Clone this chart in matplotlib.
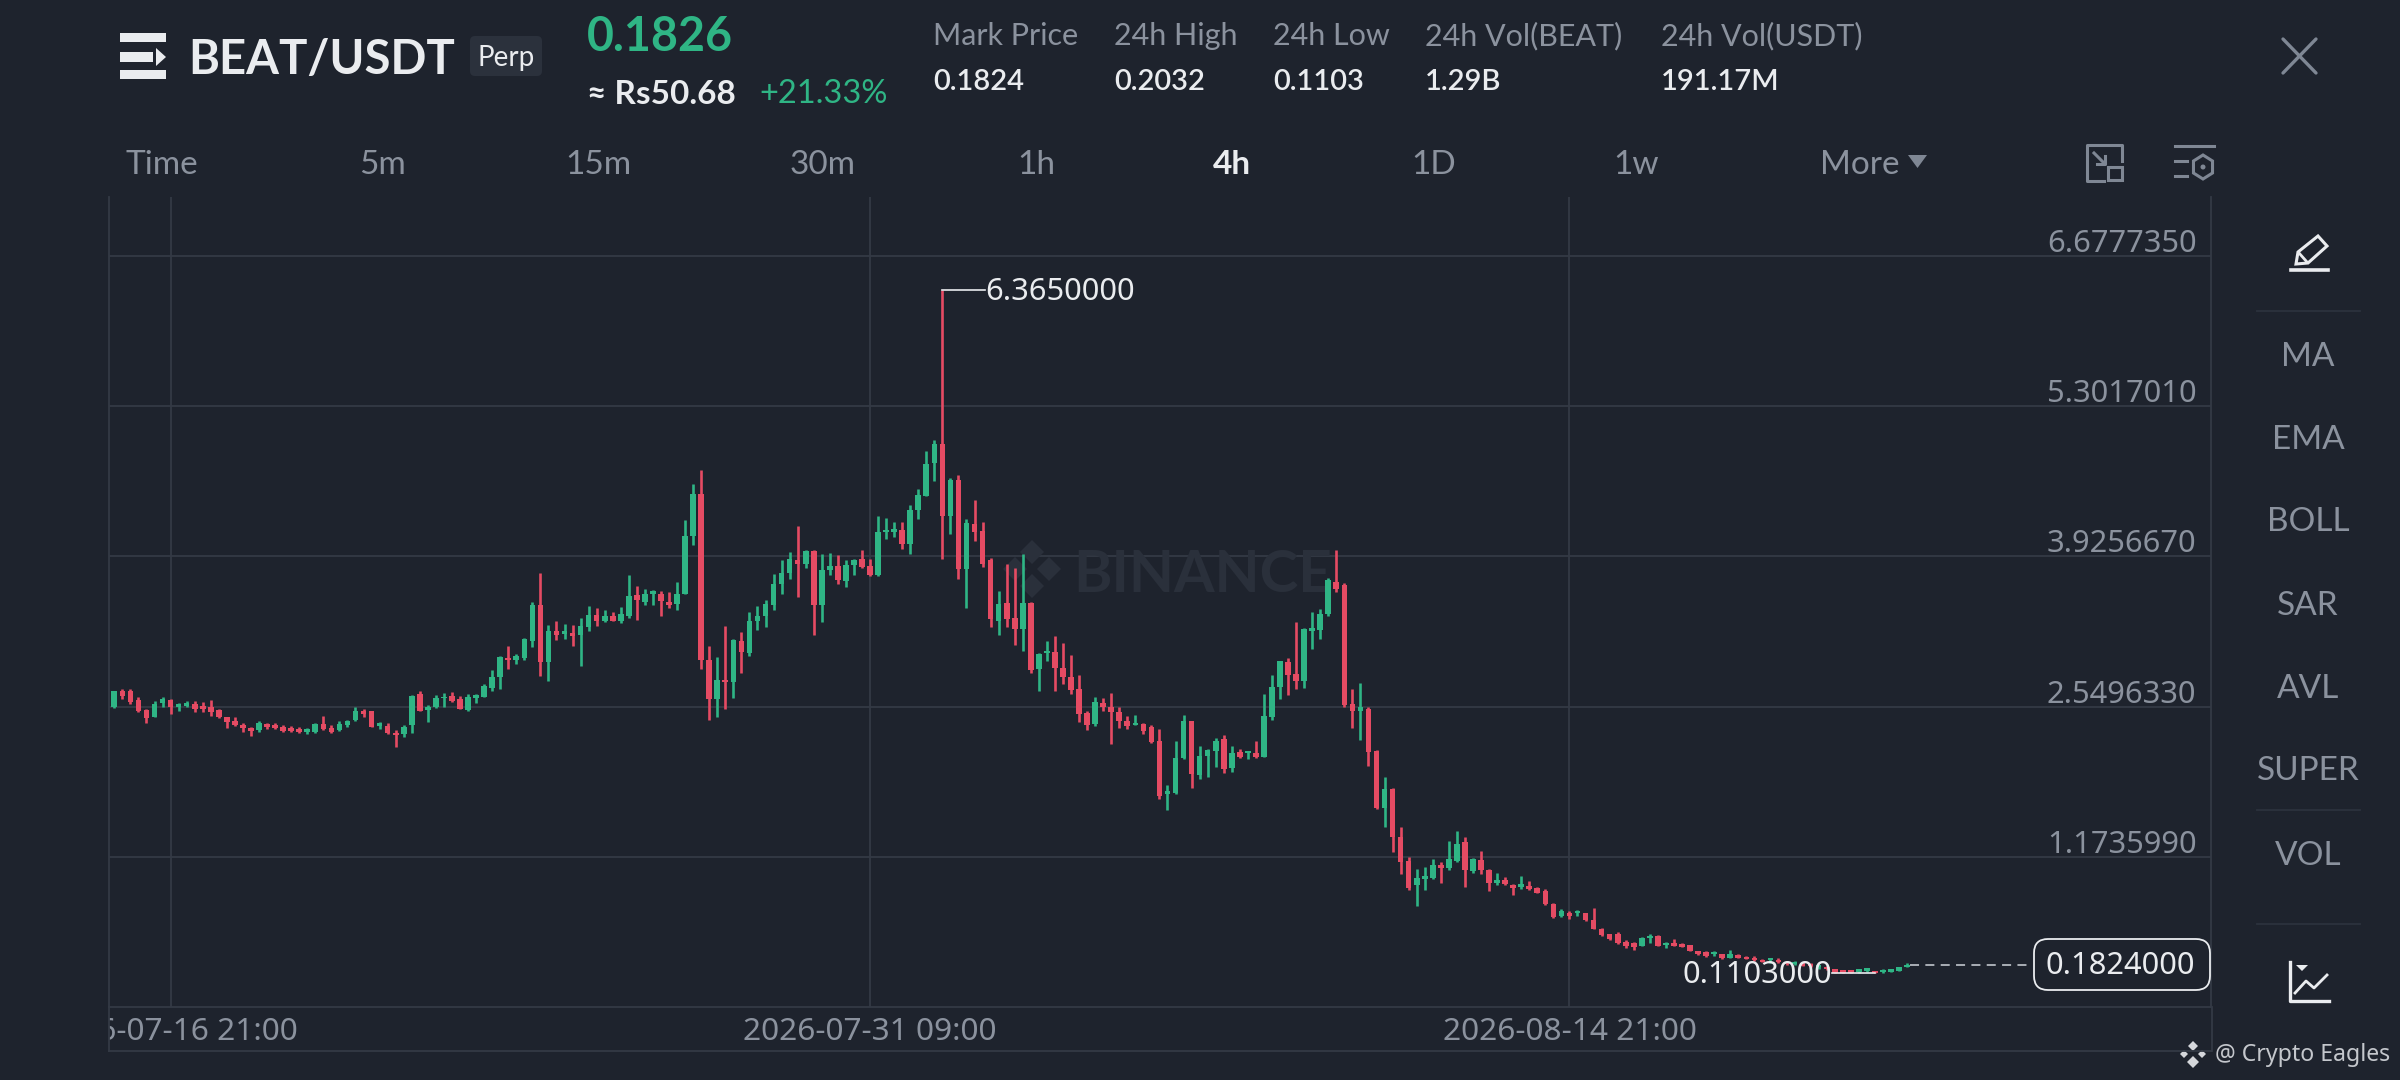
import matplotlib
matplotlib.use('Agg')
import matplotlib.pyplot as plt
import matplotlib.transforms as mtransforms
import numpy as np
from matplotlib.patches import FancyBboxPatch, Rectangle, Polygon, Circle
from matplotlib.transforms import Bbox

# 4h candles
opens = [2.55, 2.688, 2.691, 2.611, 2.519, 2.458, 2.581, 2.611, 2.544, 2.556,
         2.574, 2.559, 2.55, 2.519, 2.452, 2.421, 2.382, 2.354, 2.336, 2.391,
         2.379, 2.366, 2.354, 2.342, 2.317, 2.317, 2.391, 2.351, 2.336, 2.379,
         2.428, 2.513, 2.507, 2.373, 2.373, 2.311, 2.299, 2.379, 2.663, 2.519,
         2.544, 2.63, 2.648, 2.623, 2.519, 2.627, 2.642, 2.718, 2.825, 2.994,
         2.978, 2.992, 3.155, 3.476, 2.956, 3.246, 3.216, 3.225, 3.21, 3.277,
         3.393, 3.338, 3.375, 3.338, 3.384, 3.568, 3.507, 3.583, 3.583, 3.507,
         3.485, 3.583, 4.109, 4.501, 2.977, 2.619, 2.794, 2.772, 3.149, 3.039,
         3.332, 3.375, 3.476, 3.669, 3.773, 3.895, 3.859, 3.975, 3.482, 3.797,
         3.834, 3.7, 3.843, 3.904, 3.834, 3.754, 4.149, 4.149, 4.165, 4.042,
         4.348, 4.482, 4.782, 4.959, 4.298, 4.623, 3.812, 4.219, 4.158, 3.888,
         3.337, 3.497, 3.362, 3.261, 3.497, 2.895, 3.038, 3.048, 2.904, 2.824,
         2.711, 2.488, 2.39, 2.583, 2.549, 2.503, 2.42, 2.384, 2.39, 2.359,
         2.231, 1.747, 1.756, 2.078, 2.42, 1.925, 2.096, 2.145, 2.252, 1.986,
         2.13, 2.124, 2.121, 2.09, 2.457, 2.726, 2.956, 2.849, 2.788, 3.241,
         3.253, 3.394, 3.69, 3.66, 2.573, 2.512, 2.531, 2.144, 1.622, 1.799,
         1.351, 1.138, 0.912, 0.967, 0.976, 1.098, 1.067, 1.138, 1.311, 1.046,
         1.144, 1.052, 0.93, 0.961, 0.912, 0.893, 0.909, 0.89, 0.863, 0.741,
         0.631, 0.662, 0.662, 0.656, 0.592, 0.516, 0.47, 0.47, 0.396, 0.384,
         0.36, 0.433, 0.451, 0.366, 0.387, 0.372, 0.363, 0.311, 0.298, 0.286,
         0.28, 0.25, 0.271, 0.259, 0.25, 0.231, 0.225, 0.231, 0.21, 0.194,
         0.201, 0.194, 0.164, 0.164, 0.142, 0.133, 0.133, 0.121, 0.127, 0.127,
         0.115, 0.121, 0.127, 0.164]
closes = [2.688, 2.648, 2.59, 2.513, 2.449, 2.574, 2.617, 2.55, 2.574, 2.581,
          2.532, 2.526, 2.501, 2.452, 2.412, 2.385, 2.351, 2.33, 2.397, 2.36,
          2.354, 2.33, 2.33, 2.314, 2.342, 2.388, 2.348, 2.317, 2.391, 2.421,
          2.513, 2.483, 2.366, 2.397, 2.305, 2.287, 2.366, 2.648, 2.513, 2.544,
          2.627, 2.636, 2.599, 2.532, 2.636, 2.657, 2.734, 2.825, 3.003, 2.972,
          3.015, 3.17, 3.476, 2.956, 3.246, 3.21, 3.246, 3.194, 3.286, 3.393,
          3.338, 3.375, 3.338, 3.4, 3.562, 3.522, 3.583, 3.607, 3.516, 3.476,
          3.583, 4.109, 4.501, 2.977, 2.619, 2.794, 2.772, 3.161, 3.048, 3.332,
          3.384, 3.491, 3.669, 3.773, 3.898, 3.859, 3.972, 3.482, 3.804, 3.837,
          3.706, 3.843, 3.895, 3.828, 3.751, 4.149, 4.171, 4.177, 4.042, 4.354,
          4.486, 4.77, 4.959, 4.298, 4.623, 3.812, 4.231, 4.148, 3.852, 3.353,
          3.49, 3.353, 3.261, 3.497, 2.885, 3.032, 3.057, 2.904, 2.818, 2.702,
          2.482, 2.384, 2.589, 2.543, 2.497, 2.414, 2.375, 2.396, 2.329, 2.222,
          1.732, 1.772, 2.078, 2.42, 1.931, 2.099, 2.151, 2.237, 1.977, 2.121,
          2.084, 2.139, 2.084, 2.466, 2.726, 2.965, 2.843, 2.788, 3.259, 3.271,
          3.4, 3.712, 3.629, 2.567, 2.506, 2.543, 2.135, 1.622, 1.799, 1.357,
          1.129, 0.888, 0.976, 0.997, 1.098, 1.067, 1.15, 1.29, 1.052, 1.153,
          1.052, 0.93, 0.961, 0.921, 0.888, 0.924, 0.878, 0.845, 0.741, 0.625,
          0.674, 0.631, 0.68, 0.595, 0.516, 0.455, 0.421, 0.384, 0.36, 0.347,
          0.433, 0.448, 0.36, 0.387, 0.36, 0.347, 0.311, 0.286, 0.265, 0.301,
          0.25, 0.286, 0.25, 0.237, 0.225, 0.21, 0.243, 0.207, 0.188, 0.213,
          0.176, 0.17, 0.179, 0.145, 0.112, 0.112, 0.112, 0.145, 0.151, 0.1103,
          0.139, 0.142, 0.164, 0.1824]
highs = [2.688, 2.715, 2.715, 2.642, 2.526, 2.605, 2.636, 2.617, 2.587, 2.605,
         2.599, 2.59, 2.611, 2.526, 2.458, 2.452, 2.403, 2.366, 2.418, 2.403,
         2.403, 2.385, 2.376, 2.36, 2.354, 2.403, 2.464, 2.379, 2.421, 2.431,
         2.547, 2.526, 2.51, 2.412, 2.403, 2.336, 2.379, 2.66, 2.694, 2.562,
         2.657, 2.672, 2.679, 2.648, 2.663, 2.663, 2.755, 2.887, 3.015, 3.101,
         3.027, 3.179, 3.507, 3.776, 3.301, 3.338, 3.308, 3.301, 3.363, 3.473,
         3.449, 3.439, 3.412, 3.461, 3.757, 3.65, 3.623, 3.62, 3.604, 3.601,
         3.687, 4.256, 4.587, 4.715, 3.109, 3.002, 3.292, 3.17, 3.234, 3.415,
         3.473, 3.528, 3.761, 3.889, 3.966, 4.207, 3.981, 3.981, 3.944, 3.956,
         3.935, 3.895, 3.904, 3.987, 3.904, 4.293, 4.281, 4.244, 4.238, 4.394,
         4.541, 4.889, 4.99, 6.365, 4.647, 4.672, 4.271, 4.439, 4.24, 3.913,
         3.607, 3.852, 3.821, 3.949, 3.51, 3.038, 3.155, 3.192, 3.13, 3.026,
         2.843, 2.512, 2.635, 2.629, 2.678, 2.543, 2.463, 2.476, 2.402, 2.378,
         2.347, 1.827, 2.231, 2.476, 2.42, 2.185, 2.163, 2.261, 2.286, 2.185,
         2.157, 2.142, 2.237, 2.665, 2.837, 2.971, 2.995, 3.326, 3.271, 3.415,
         3.443, 3.73, 3.981, 3.681, 2.708, 2.769, 2.546, 2.15, 1.906, 1.808,
         1.443, 1.168, 1.059, 1.077, 1.15, 1.125, 1.314, 1.406, 1.351, 1.159,
         1.223, 1.058, 1.028, 0.985, 0.924, 0.997, 0.954, 0.9, 0.881, 0.747,
         0.692, 0.68, 0.686, 0.662, 0.708, 0.525, 0.47, 0.482, 0.415, 0.396,
         0.439, 0.464, 0.457, 0.393, 0.421, 0.387, 0.369, 0.314, 0.311, 0.308,
         0.286, 0.317, 0.286, 0.268, 0.262, 0.237, 0.25, 0.25, 0.219, 0.222,
         0.207, 0.201, 0.185, 0.17, 0.148, 0.139, 0.136, 0.148, 0.154, 0.13,
         0.142, 0.145, 0.167, 0.201]
lows = [2.535, 2.617, 2.574, 2.504, 2.397, 2.452, 2.55, 2.483, 2.51, 2.544,
        2.501, 2.501, 2.464, 2.443, 2.357, 2.373, 2.317, 2.284, 2.314, 2.342,
        2.348, 2.317, 2.32, 2.305, 2.296, 2.305, 2.336, 2.305, 2.324, 2.36,
        2.415, 2.452, 2.36, 2.342, 2.299, 2.183, 2.272, 2.305, 2.507, 2.409,
        2.535, 2.55, 2.59, 2.526, 2.513, 2.581, 2.633, 2.697, 2.715, 2.893,
        2.939, 2.98, 3.094, 2.833, 2.781, 3.161, 3.173, 3.109, 2.925, 3.246,
        3.292, 3.329, 3.335, 3.317, 3.363, 3.344, 3.479, 3.476, 3.384, 3.454,
        3.43, 3.577, 4.027, 2.892, 2.427, 2.457, 2.528, 2.629, 2.861, 3.017,
        3.253, 3.277, 3.439, 3.583, 3.721, 3.553, 3.816, 3.21, 3.323, 3.754,
        3.675, 3.644, 3.751, 3.819, 3.745, 3.748, 4.085, 4.103, 3.996, 3.944,
        4.272, 4.476, 4.613, 3.901, 4.127, 3.72, 3.454, 4.066, 3.827, 3.276,
        3.209, 3.282, 3.111, 3.056, 2.854, 2.696, 2.965, 2.69, 2.757, 2.665,
        2.408, 2.338, 2.368, 2.509, 2.203, 2.353, 2.347, 2.378, 2.298, 2.213,
        1.707, 1.6, 1.747, 2.072, 1.805, 1.888, 1.906, 1.998, 1.943, 1.955,
        2.075, 2.072, 2.081, 2.084, 2.43, 2.622, 2.653, 2.708, 2.717, 3.078,
        3.167, 3.378, 3.596, 2.549, 2.353, 2.243, 2.004, 1.616, 1.443, 1.217,
        1.016, 0.869, 0.723, 0.869, 0.967, 0.936, 1.052, 1.129, 0.894, 1.028,
        1.016, 0.857, 0.918, 0.912, 0.826, 0.881, 0.872, 0.838, 0.735, 0.613,
        0.619, 0.601, 0.631, 0.589, 0.51, 0.445, 0.415, 0.378, 0.335, 0.323,
        0.353, 0.387, 0.353, 0.341, 0.353, 0.344, 0.308, 0.277, 0.259, 0.262,
        0.237, 0.246, 0.243, 0.234, 0.219, 0.207, 0.201, 0.201, 0.182, 0.182,
        0.17, 0.164, 0.145, 0.139, 0.112, 0.11, 0.11, 0.11, 0.118, 0.1103,
        0.112, 0.118, 0.124, 0.16]

price_ticks = [6.677735, 5.301701, 3.925667, 2.549633, 1.173599]
date_ticks = [7, 94, 181]
date_labels = ['2026-07-16 21:00', '2026-07-31 09:00', '2026-08-14 21:00']
high_idx, high_price = 103, 6.365
low_idx, low_price = 219, 0.1103
last_idx, last_price = 223, 0.1824

intervals = ['Time', '5m', '15m', '30m', '1h', '4h', '1D', '1w']
stat_names = ['Mark Price', '24h High', '24h Low', '24h Vol(BEAT)', '24h Vol(USDT)']
stat_values = ['0.1824', '0.2032', '0.1103', '1.29B', '191.17M']
indicators = ['MA', 'EMA', 'BOLL', 'SAR', 'AVL', 'SUPER', 'VOL']

BG = '#1E232D'
GRID = '#343A45'
GREEN = '#2FB585'
RED = '#E54B63'
WHITE = '#EAECEF'
GREY = '#8B929E'
ICON = '#7F8794'
WATERMARK = '#2A303B'

fig = plt.figure(figsize=(24, 10.8), dpi=100, facecolor=BG)


def px_rect(x0, y0, x1, y1):
    return [x0 / 2400, 1 - y1 / 1080, (x1 - x0) / 2400, (y1 - y0) / 1080]


def diamond(cx, cy, r, **kw):
    return Polygon([(cx, cy - r), (cx + r, cy), (cx, cy + r), (cx - r, cy)], closed=True,
                   edgecolor='none', **kw)


# overlay in screen pixels for the app chrome around the chart
ui = fig.add_axes([0, 0, 1, 1], zorder=3)
ui.set_xlim(0, 2400)
ui.set_ylim(1080, 0)
ui.axis('off')

ax = fig.add_axes(px_rect(109, 197, 2211, 1007), zorder=2, facecolor=BG)
n = len(opens)
x = np.arange(n)
colors = [GREEN if c >= o else RED for o, c in zip(opens, closes)]
bottoms = [min(o, c) for o, c in zip(opens, closes)]
heights = [abs(c - o) for o, c in zip(opens, closes)]

ax.vlines(x, lows, highs, colors=colors, lw=1.9, zorder=3)
ax.bar(x, heights, bottom=bottoms, width=0.7, color=colors, zorder=3)

ax.set_xlim(-0.66, 260.8)
ax.set_ylim(-0.2024, 7.218)
ax.set_xticks(date_ticks)
ax.set_xticklabels(date_labels, fontsize=22.8, color=GREY, family='Noto Sans')
ax.set_yticks(price_ticks)
ax.set_yticklabels(['%.7f' % p for p in price_ticks], fontsize=22.2, color=GREY,
                   family='Noto Sans', ha='right', va='bottom')
ax.yaxis.tick_right()
ax.tick_params(axis='y', length=0, pad=-10.5)
ax.tick_params(axis='x', length=0, pad=7.5)
ax.grid(True, color=GRID, lw=1.3, zorder=0)
ax.set_axisbelow(True)
for s in ax.spines.values():
    s.set_color(GRID)
    s.set_linewidth(1.3)
ax.spines['top'].set_visible(False)
for lab in ax.get_xticklabels():
    lab.set_clip_on(True)
    lab.set_clip_box(Bbox([[109, 0], [2211, 1080]]))
# labels sit 3 px lower than va='bottom' puts them
down = mtransforms.ScaledTranslation(0, -0.03, fig.dpi_scale_trans)
for lab in ax.get_yticklabels():
    lab.set_transform(lab.get_transform() + down)

# high / low / last markers
ax.plot([high_idx, high_idx + 5.3], [high_price, high_price], color=WHITE, lw=1.2, zorder=4)
ax.text(high_idx + 5.3, high_price - 0.02, '%.7f' % high_price, color=WHITE, fontsize=22.2,
        family='Noto Sans', va='center', ha='left', zorder=5)
ax.plot([low_idx - 5.3, low_idx], [low_price, low_price], color=WHITE, lw=1.2, zorder=4)
ax.text(low_idx - 5.3, low_price - 0.02, '%.7f' % low_price, color=WHITE, fontsize=22.2,
        family='Noto Sans', va='center', ha='right', zorder=5)
ax.plot([last_idx + 0.3, last_idx + 15.2], [last_price, last_price], color='#B4B9C0', lw=1.3,
        dashes=(5, 3.5), zorder=4)

# watermark under the candles, placed in screen pixels
ax.text(1073, 575, 'BINANCE', color=WATERMARK, fontsize=42, weight='bold', family='Lato',
        va='center', ha='left', zorder=1, transform=ui.transData)
for dx, dy, r in [(0, -17, 12), (-17, 0, 12), (17, 0, 12), (0, 17, 12)]:
    ax.add_patch(diamond(1032 + dx, 569 + dy, r, facecolor=WATERMARK, transform=ui.transData, zorder=1))

# frame pieces under the date labels
ui.plot([109, 2211], [1051, 1051], color=GRID, lw=1.3)
ui.plot([109, 109], [1007, 1051], color=GRID, lw=1.3)
ui.plot([2211.5, 2211.5], [1007, 1051], color=GRID, lw=1.3)

# last price box
ui.add_patch(FancyBboxPatch((2042, 947), 160, 35, boxstyle='round,pad=8,rounding_size=14',
                            facecolor=BG, edgecolor=WHITE, lw=1.3))
ui.text(2120, 966, '%.7f' % last_price, color=WHITE, fontsize=22.2, family='Noto Sans',
        ha='center', va='center')

# header
ui.add_patch(Rectangle((120, 33), 46, 9, facecolor=WHITE, edgecolor='none'))
ui.add_patch(Rectangle((120, 52), 33, 10, facecolor=WHITE, edgecolor='none'))
ui.add_patch(Rectangle((120, 70), 46, 9, facecolor=WHITE, edgecolor='none'))
ui.add_patch(Polygon([(156, 48), (166, 57), (156, 66)], closed=True, facecolor=WHITE, edgecolor='none'))
ui.text(188, 60, 'BEAT/USDT', color=WHITE, fontsize=34, weight='bold', family='Lato',
        ha='left', va='center')
ui.add_patch(FancyBboxPatch((476, 42), 60, 28, boxstyle='round,pad=6,rounding_size=5',
                            facecolor='#2B313C', edgecolor='none'))
ui.text(506, 58, 'Perp', color=WHITE, fontsize=20, family='Lato', ha='center', va='center')
ui.text(587, 37, '0.1826', color=GREEN, fontsize=33.5, weight='bold', family='Lato',
        ha='left', va='center')
ui.text(587, 94, '≈ Rs50.68', color=WHITE, fontsize=24, weight='bold', family=['Lato', 'DejaVu Sans'],
        ha='left', va='center')
ui.text(759, 94, '+21.33%', color=GREEN, fontsize=23.5, family='Lato', ha='left', va='center')

for name, val, left in zip(stat_names, stat_values, [933, 1114, 1273, 1425, 1661]):
    ui.text(left, 36, name, color=GREY, fontsize=22, family='Lato', ha='left', va='center')
    ui.text(left, 82, val, color=WHITE, fontsize=21, weight=600, family='Lato', ha='left', va='center')

ui.plot([2283, 2316], [39, 73], color=ICON, lw=2.4, solid_capstyle='round')
ui.plot([2283, 2316], [73, 39], color=ICON, lw=2.4, solid_capstyle='round')

# interval row
for name, cx in zip(intervals, [162, 383, 598, 823, 1036, 1232, 1434, 1636]):
    active = name == '4h'
    ui.text(cx, 165, name, color=WHITE if active else GREY, fontsize=24,
            weight='bold' if active else 'normal', family='Lato', ha='center', va='center')
ui.text(1820, 165, 'More', color=GREY, fontsize=24, family='Lato', ha='left', va='center')
ui.add_patch(Polygon([(1908, 155), (1927, 155), (1917.5, 168)], closed=True, facecolor=ICON, edgecolor='none'))

# layout icons
ui.plot([2104, 2087, 2087, 2122, 2122], [181, 181, 145, 145, 161], color=ICON, lw=2.2)
ui.add_patch(Rectangle((2108, 167), 14, 13, facecolor='none', edgecolor=ICON, lw=2.2))
ui.plot([2094, 2105], [153, 164], color=ICON, lw=2.2)
ui.plot([2097, 2105, 2105], [164, 164, 156], color=ICON, lw=2.2)
ui.plot([2175, 2214], [146, 146], color=ICON, lw=2.2)
ui.plot([2175, 2187], [161, 161], color=ICON, lw=2.2)
ui.plot([2175, 2187], [176, 176], color=ICON, lw=2.2)
hex_pts = [(2203 + 11 * np.sin(a), 167 - 12 * np.cos(a)) for a in np.arange(6) * np.pi / 3]
ui.add_patch(Polygon(hex_pts, closed=True, facecolor='none', edgecolor=ICON, lw=2.2))
ui.add_patch(Circle((2203, 167), 2.5, facecolor=ICON, edgecolor='none'))

# right hand tool column
ui.plot([2291, 2328], [270, 270], color=WHITE, lw=2.6)
ui.add_patch(Polygon([(2296, 264), (2298, 252), (2318, 236), (2327, 246), (2308, 263)], closed=True,
                     facecolor='none', edgecolor=WHITE, lw=2.2))
ui.plot([2299, 2307], [253, 262], color=WHITE, lw=2.0)
for name, cy in zip(indicators, [354, 437, 519, 603, 686, 768, 853]):
    ui.text(2308, cy + 3, name, color=GREY, fontsize=24, family='Lato', ha='center', va='center')
for cy in [311, 810, 924]:
    ui.plot([2257, 2360], [cy, cy], color='#2C323D', lw=1.3)
ui.plot([2290, 2290, 2329], [962, 1001, 1001], color=WHITE, lw=2.4)
ui.plot([2295, 2306, 2314, 2327], [993, 981, 988, 975], color=WHITE, lw=2.0)
ui.add_patch(Polygon([(2296, 965), (2308, 965), (2302, 971)], closed=True, facecolor=WHITE, edgecolor='none'))

# share stamp
for dx, dy, r in [(0, -8, 5), (-9, 0, 4), (9, 0, 4), (0, 8, 6)]:
    ui.add_patch(diamond(2193 + dx, 1054 + dy, r, facecolor='#D5D7DB'))
ui.text(2390, 1055, '@ Crypto Eagles', color='#C4C7CC', fontsize=16.6, family='Noto Sans',
        ha='right', va='center')

fig.savefig('out.png', dpi=100, facecolor=BG)
